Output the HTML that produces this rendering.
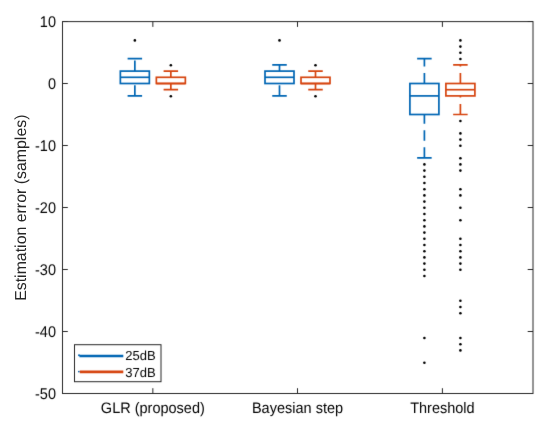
<!DOCTYPE html>
<html><head><meta charset="utf-8"><title>Boxplot</title>
<style>html,body{margin:0;padding:0;background:#fff;}svg{display:block;}text{text-rendering:geometricPrecision;}</style>
</head><body>
<svg width="550" height="429" viewBox="0 0 550 429">
<defs><filter id="soft" filterUnits="userSpaceOnUse" x="0" y="0" width="550" height="429" color-interpolation-filters="sRGB"><feConvolveMatrix order="3" kernelMatrix="0.0064 0.0672 0.0064 0.0672 0.7056 0.0672 0.0064 0.0672 0.0064" divisor="1" edgeMode="duplicate" preserveAlpha="true"/></filter></defs>
<g filter="url(#soft)">
<rect width="550" height="429" fill="#fff"/>
<g fill="#000" stroke-width="1.7" fill-opacity="1">
<path d="M134.85 71.1V58.7" stroke="#0066B4" stroke-dasharray="10.6 6.5"/>
<path d="M134.85 95.9V83.5" stroke="#0066B4" stroke-dasharray="10.6 6.5"/>
<path d="M127.6 58.7H142.1M127.6 95.9H142.1" stroke="#0066B4"/>
<rect x="120.35" y="71.1" width="29" height="12.4" stroke="#0066B4" fill="none"/>
<path d="M120.35 77.3H149.35" stroke="#0066B4"/>
<circle cx="134.85" cy="40.4" r="1.3"/>
<path d="M170.85 77.3V71.1" stroke="#D64510" stroke-dasharray="10.6 6.5"/>
<path d="M170.85 89.7V83.5" stroke="#D64510" stroke-dasharray="10.6 6.5"/>
<path d="M163.6 71.1H178.1M163.6 89.7H178.1" stroke="#D64510"/>
<rect x="156.35" y="77.3" width="29" height="6.2" stroke="#D64510" fill="none"/>
<path d="M156.35 83.5H185.35" stroke="#D64510"/>
<circle cx="170.85" cy="65.2" r="1.3"/>
<circle cx="170.85" cy="96.2" r="1.3"/>
<path d="M279.5 71.1V64.9" stroke="#0066B4" stroke-dasharray="10.6 6.5"/>
<path d="M279.5 95.9V83.5" stroke="#0066B4" stroke-dasharray="10.6 6.5"/>
<path d="M272.25 64.9H286.75M272.25 95.9H286.75" stroke="#0066B4"/>
<rect x="265" y="71.1" width="29" height="12.4" stroke="#0066B4" fill="none"/>
<path d="M265 77.3H294" stroke="#0066B4"/>
<circle cx="279.5" cy="40.4" r="1.3"/>
<path d="M315.5 77.3V71.1" stroke="#D64510" stroke-dasharray="10.6 6.5"/>
<path d="M315.5 89.7V83.5" stroke="#D64510" stroke-dasharray="10.6 6.5"/>
<path d="M308.25 71.1H322.75M308.25 89.7H322.75" stroke="#D64510"/>
<rect x="301" y="77.3" width="29" height="6.2" stroke="#D64510" fill="none"/>
<path d="M301 83.5H330" stroke="#D64510"/>
<circle cx="315.5" cy="65.2" r="1.3"/>
<circle cx="315.5" cy="96.2" r="1.3"/>
<path d="M424.4 83.5V58.7" stroke="#0066B4" stroke-dasharray="10.6 6.5"/>
<path d="M424.4 157.9V114.5" stroke="#0066B4" stroke-dasharray="10.6 6.5"/>
<path d="M417.15 58.7H431.65M417.15 157.9H431.65" stroke="#0066B4"/>
<rect x="409.9" y="83.5" width="29" height="31" stroke="#0066B4" fill="none"/>
<path d="M409.9 95.9H438.9" stroke="#0066B4"/>
<circle cx="424.4" cy="164.4" r="1.3"/>
<circle cx="424.4" cy="170.6" r="1.3"/>
<circle cx="424.4" cy="176.8" r="1.3"/>
<circle cx="424.4" cy="183" r="1.3"/>
<circle cx="424.4" cy="189.2" r="1.3"/>
<circle cx="424.4" cy="195.4" r="1.3"/>
<circle cx="424.4" cy="201.6" r="1.3"/>
<circle cx="424.4" cy="207.8" r="1.3"/>
<circle cx="424.4" cy="214" r="1.3"/>
<circle cx="424.4" cy="220.2" r="1.3"/>
<circle cx="424.4" cy="226.4" r="1.3"/>
<circle cx="424.4" cy="232.6" r="1.3"/>
<circle cx="424.4" cy="238.8" r="1.3"/>
<circle cx="424.4" cy="245" r="1.3"/>
<circle cx="424.4" cy="251.2" r="1.3"/>
<circle cx="424.4" cy="257.4" r="1.3"/>
<circle cx="424.4" cy="263.6" r="1.3"/>
<circle cx="424.4" cy="269.8" r="1.3"/>
<circle cx="424.4" cy="276" r="1.3"/>
<circle cx="424.4" cy="338" r="1.3"/>
<circle cx="424.4" cy="362.8" r="1.3"/>
<path d="M460.4 83.5V64.9" stroke="#D64510" stroke-dasharray="10.6 6.5"/>
<path d="M460.4 114.5V95.9" stroke="#D64510" stroke-dasharray="10.6 6.5"/>
<path d="M453.15 64.9H467.65M453.15 114.5H467.65" stroke="#D64510"/>
<rect x="445.9" y="83.5" width="29" height="12.4" stroke="#D64510" fill="none"/>
<path d="M445.9 89.7H474.9" stroke="#D64510"/>
<circle cx="460.4" cy="40.4" r="1.3"/>
<circle cx="460.4" cy="46.6" r="1.3"/>
<circle cx="460.4" cy="52.8" r="1.3"/>
<circle cx="460.4" cy="59" r="1.3"/>
<circle cx="460.4" cy="121" r="1.3"/>
<circle cx="460.4" cy="133.4" r="1.3"/>
<circle cx="460.4" cy="139.6" r="1.3"/>
<circle cx="460.4" cy="145.8" r="1.3"/>
<circle cx="460.4" cy="158.2" r="1.3"/>
<circle cx="460.4" cy="164.4" r="1.3"/>
<circle cx="460.4" cy="170.6" r="1.3"/>
<circle cx="460.4" cy="189.2" r="1.3"/>
<circle cx="460.4" cy="195.4" r="1.3"/>
<circle cx="460.4" cy="207.8" r="1.3"/>
<circle cx="460.4" cy="220.2" r="1.3"/>
<circle cx="460.4" cy="238.8" r="1.3"/>
<circle cx="460.4" cy="245" r="1.3"/>
<circle cx="460.4" cy="251.2" r="1.3"/>
<circle cx="460.4" cy="257.4" r="1.3"/>
<circle cx="460.4" cy="263.6" r="1.3"/>
<circle cx="460.4" cy="269.8" r="1.3"/>
<circle cx="460.4" cy="300.8" r="1.3"/>
<circle cx="460.4" cy="307" r="1.3"/>
<circle cx="460.4" cy="313.2" r="1.3"/>
<circle cx="460.4" cy="338" r="1.3"/>
<circle cx="460.4" cy="344.2" r="1.3"/>
<circle cx="460.4" cy="350.4" r="1.3"/>
</g>
<g stroke="#262626" stroke-width="1" fill="none"><rect x="62.5" y="21.6" width="470.5" height="371.9" fill="none"/><path d="M62.5 21.5h5.3M533.0 21.5h-5.3M62.5 83.5h5.3M533.0 83.5h-5.3M62.5 145.5h5.3M533.0 145.5h-5.3M62.5 207.5h5.3M533.0 207.5h-5.3M62.5 269.5h5.3M533.0 269.5h-5.3M62.5 331.5h5.3M533.0 331.5h-5.3M62.5 393.5h5.3M533.0 393.5h-5.3M152.85 21.6v5.3M152.85 393.5v-5.3M297.5 21.6v5.3M297.5 393.5v-5.3M442.4 21.6v5.3M442.4 393.5v-5.3"/></g>
<g font-family="Liberation Sans, Arial, sans-serif" font-size="14.5" fill="#000" stroke="#000" stroke-width="0">
<text transform="translate(56 27.4) scale(1 1.07)" text-anchor="end">10</text>
<text transform="translate(56 89.4) scale(1 1.07)" text-anchor="end">0</text>
<text transform="translate(56 151.4) scale(1 1.07)" text-anchor="end">-10</text>
<text transform="translate(56 213.4) scale(1 1.07)" text-anchor="end">-20</text>
<text transform="translate(56 275.4) scale(1 1.07)" text-anchor="end">-30</text>
<text transform="translate(56 337.4) scale(1 1.07)" text-anchor="end">-40</text>
<text transform="translate(56 399.4) scale(1 1.07)" text-anchor="end">-50</text>
<text transform="translate(152.85 413.3) scale(1 1.05)" text-anchor="middle">GLR (proposed)</text>
<text transform="translate(297.5 413.3) scale(1 1.05)" text-anchor="middle">Bayesian step</text>
<text transform="translate(442.4 413.3) scale(1 1.05)" text-anchor="middle">Threshold</text>
</g>
<rect x="74.5" y="344.7" width="86.5" height="37" fill="#fff" stroke="#262626" stroke-width="1"/>
<path d="M79.4 356H123.3" stroke="#0066B4" stroke-width="2.7"/>
<circle cx="79" cy="355.3" r="1" fill="#0066B4"/><circle cx="78.9" cy="371.6" r="0.9" fill="#0066B4"/>
<path d="M79.8 371.9H123.3" stroke="#D64510" stroke-width="2.7"/>
<g font-family="Liberation Sans, Arial, sans-serif" font-size="13" fill="#000" stroke="#000" stroke-width="0"><text x="125.3" y="360.1">25dB</text><text x="125.3" y="376.8">37dB</text></g>
</g>
<text transform="translate(26.3 207.7) rotate(-90) scale(1 1.0)" text-anchor="middle" font-family="Liberation Sans, Arial, sans-serif" font-size="15.9" fill="#262626">Estimation error (samples)</text>
</svg>
</body></html>
